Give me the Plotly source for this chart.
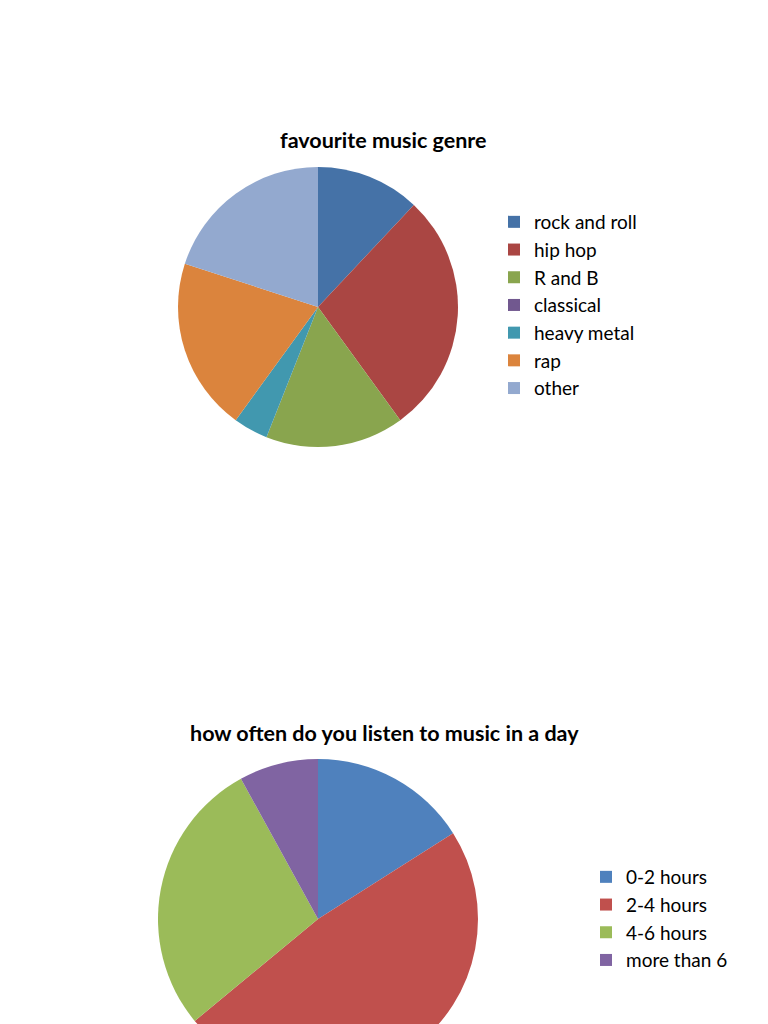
import plotly.graph_objects as go

# survey answers (counts)
genres = ["rock and roll", "hip hop", "R and B", "classical", "heavy metal", "rap", "other"]
genre_counts = [3, 7, 4, 0, 1, 5, 5]
genre_colors = ["#4572A7", "#AA4643", "#89A54E", "#71588F", "#4198AF", "#DB843D", "#93A9CF"]

hours = ["0-2 hours", "2-4 hours", "4-6 hours", "more than 6"]
hour_counts = [4, 12, 7, 2]
hour_colors = ["#4F81BD", "#C0504D", "#9BBB59", "#8064A2"]

W, H = 768, 1080
OFF = 8  # page body margin
FONT = "Lato"

# page pixel (from top-left) to paper coords
def px(x):
    return (x - OFF) / W

def py(y):
    return (H - (y - OFF)) / H

fig = go.Figure()

fig.add_trace(go.Pie(
    labels=genres, values=genre_counts,
    marker=dict(colors=genre_colors, line=dict(width=0)),
    sort=False, direction="clockwise", rotation=0,
    textinfo="none", hoverinfo="label+value+percent",
    domain=dict(x=[px(178), px(458)], y=[py(447), py(167)]),
    legend="legend"))

fig.add_trace(go.Pie(
    labels=hours, values=hour_counts,
    marker=dict(colors=hour_colors, line=dict(width=0)),
    sort=False, direction="clockwise", rotation=0,
    textinfo="none", hoverinfo="label+value+percent",
    domain=dict(x=[px(158), px(478)], y=[py(1079), py(759)]),
    legend="legend2"))

# chart titles
fig.add_annotation(text="<b>favourite music genre</b>", x=px(383), y=py(140),
                   xref="paper", yref="paper", showarrow=False, yanchor="middle",
                   font=dict(size=21.5, color="black", family=FONT))
fig.add_annotation(text="<b>how often do you listen to music in a day</b>", x=px(384), y=py(733),
                   xref="paper", yref="paper", showarrow=False, yanchor="middle",
                   font=dict(size=21.5, color="black", family=FONT))

fig.update_layout(
    width=W, height=H,
    margin=dict(l=0, r=0, t=0, b=0),
    paper_bgcolor="white",
    font=dict(family=FONT, size=19, color="black"),
    legend=dict(x=px(494), y=py(203), xanchor="left", yanchor="top",
                font=dict(size=19, family=FONT)),
    legend2=dict(x=px(586), y=py(858), xanchor="left", yanchor="top",
                 font=dict(size=19, family=FONT)),
)

fig.write_html("out.html")
